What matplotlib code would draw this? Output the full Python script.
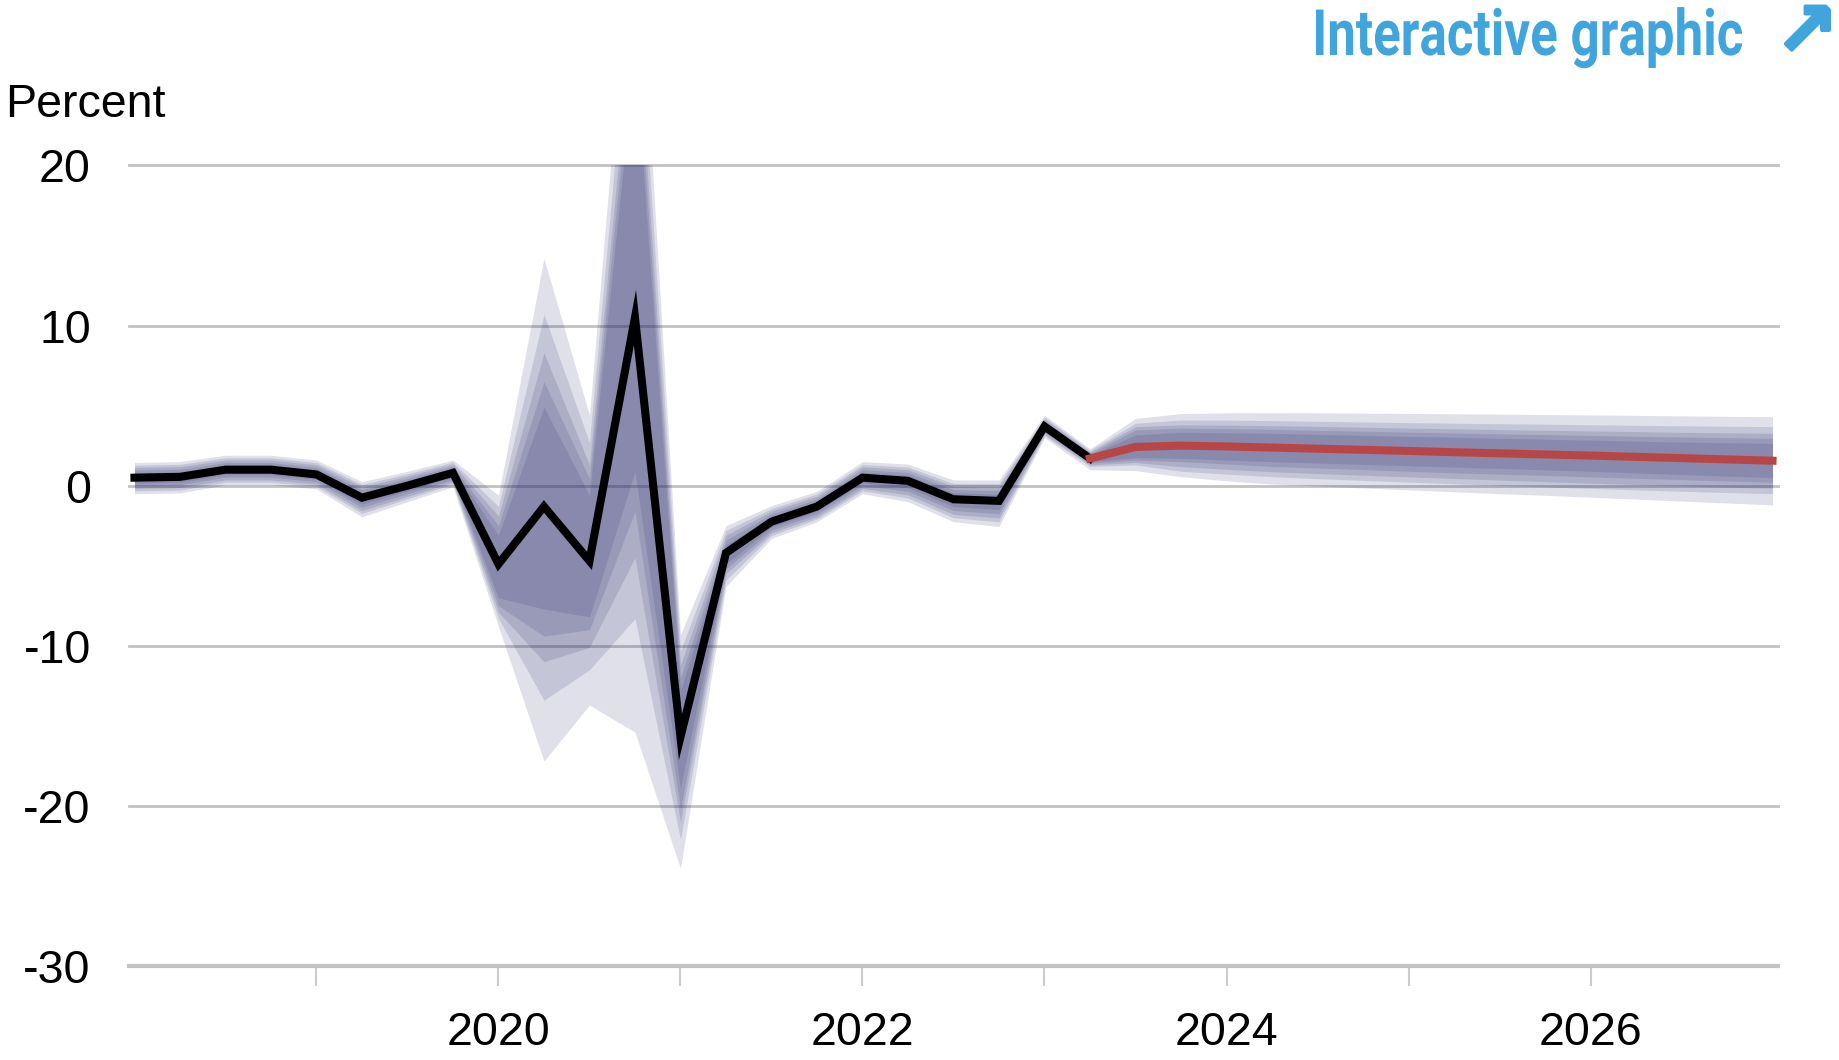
import numpy as np
import matplotlib
matplotlib.use("Agg")
import matplotlib.pyplot as plt
from matplotlib.patheffects import AbstractPathEffect, withStroke
from matplotlib.transforms import Affine2D

plt.rcParams['font.family'] = ['Liberation Sans', 'DejaVu Sans']

# quarterly dates 2018Q1 .. 2027Q1
years = [2018 + i // 4 for i in range(37)]
quarters = [i % 4 + 1 for i in range(37)]

# history (2018Q1 .. 2023Q2) and forecast (2023Q2 .. 2027Q1)
history = [0.5, 0.55, 1.0, 1.0, 0.7, -0.75, 0.0, 0.8, -4.9, -1.3, -4.7, 10.5,
           -15.7, -4.2, -2.25, -1.3, 0.5, 0.3, -0.85, -0.95, 3.7, 1.7]
forecast = [1.7, 2.42, 2.5, 2.45, 2.38, 2.31, 2.24, 2.17, 2.09, 2.02, 1.95,
            1.88, 1.8, 1.72, 1.64, 1.56]

# probability bands, 37 values each (upper / lower edges)
hi50 = [0.81, 0.86, 1.3, 1.3, 1.0, -0.42, 0.3, 1.06, -3.1, 4.9, -0.6, 27,
        -12.8, -3.7, -1.92, -0.99, 0.83, 0.65, -0.45, -0.52, 3.93, 1.9,
        3.17, 3.33, 3.3, 3.27, 3.2, 3.14, 3.08, 3.02, 2.96, 2.9, 2.84, 2.78, 2.72, 2.68, 2.64]
lo50 = [0.17, 0.22, 0.69, 0.69, 0.4, -1.15, -0.33, 0.52, -7.0, -7.7, -8.2, 0.9,
        -18.9, -4.9, -2.6, -1.61, 0.17, -0.13, -1.31, -1.48, 3.47, 1.5,
        1.75, 1.71, 1.6, 1.5, 1.42, 1.33, 1.25, 1.16, 1.08, 0.99, 0.9, 0.8, 0.7, 0.6, 0.5]
hi60 = [0.98, 1.03, 1.45, 1.45, 1.15, -0.25, 0.45, 1.2, -2.5, 6.5, 0.45, 29,
        -12.0, -3.4, -1.75, -0.83, 1.0, 0.83, -0.25, -0.3, 4.05, 2.0,
        3.48, 3.6, 3.56, 3.52, 3.46, 3.4, 3.35, 3.29, 3.24, 3.19, 3.14, 3.09, 3.04, 3.0, 2.96]
lo60 = [0.0, 0.05, 0.53, 0.53, 0.25, -1.35, -0.5, 0.37, -7.5, -9.4, -9.0, -1.6,
        -20.2, -5.2, -2.78, -1.78, 0.0, -0.35, -1.55, -1.75, 3.35, 1.4,
        1.6, 1.5, 1.35, 1.2, 1.1, 1.0, 0.9, 0.8, 0.72, 0.64, 0.55, 0.46, 0.38, 0.29, 0.2]
hi70 = [1.14, 1.19, 1.6, 1.6, 1.3, -0.08, 0.6, 1.34, -1.9, 8.3, 1.3, 31,
        -11.2, -3.1, -1.58, -0.66, 1.17, 1.0, -0.05, -0.08, 4.17, 2.1,
        3.68, 3.8, 3.78, 3.75, 3.7, 3.65, 3.6, 3.55, 3.5, 3.46, 3.42, 3.38, 3.33, 3.3, 3.27]
lo70 = [-0.17, -0.12, 0.36, 0.36, 0.1, -1.55, -0.67, 0.22, -7.9, -11.0, -10.1, -4.5,
        -21.0, -5.5, -2.95, -1.94, -0.17, -0.57, -1.79, -2.02, 3.23, 1.3,
        1.45, 1.19, 1.02, 0.87, 0.76, 0.65, 0.55, 0.45, 0.35, 0.25, 0.16, 0.07, -0.02, -0.1, -0.15]
hi80 = [1.28, 1.33, 1.74, 1.74, 1.44, 0.07, 0.74, 1.46, -1.3, 10.7, 2.7, 34,
        -10.3, -2.8, -1.43, -0.52, 1.32, 1.16, 0.13, 0.12, 4.27, 2.2,
        3.9, 4.1, 4.1, 4.06, 4.02, 3.98, 3.94, 3.9, 3.87, 3.84, 3.8, 3.77, 3.74, 3.71, 3.69]
lo80 = [-0.32, -0.27, 0.22, 0.22, -0.04, -1.73, -0.82, 0.1, -8.3, -13.4, -11.5, -8.3,
        -22.1, -5.9, -3.11, -2.08, -0.32, -0.77, -2.0, -2.26, 3.13, 1.2,
        1.3, 0.9, 0.72, 0.56, 0.44, 0.33, 0.22, 0.12, 0.02, -0.08, -0.17, -0.26, -0.35, -0.43, -0.5]
hi90 = [1.45, 1.5, 1.9, 1.9, 1.6, 0.25, 0.9, 1.6, -0.6, 14.2, 4.4, 38,
        -9.3, -2.5, -1.25, -0.35, 1.5, 1.35, 0.35, 0.35, 4.4, 2.3,
        4.2, 4.5, 4.55, 4.56, 4.55, 4.53, 4.51, 4.49, 4.47, 4.44, 4.42, 4.39, 4.36, 4.33, 4.31]
lo90 = [-0.5, -0.45, 0.05, 0.05, -0.2, -1.95, -1.0, -0.06, -8.8, -17.2, -13.7, -15.4,
        -23.9, -6.3, -3.3, -2.25, -0.5, -1.0, -2.25, -2.55, 3.0, 1.0,
        0.94, 0.56, 0.3, 0.1, -0.02, -0.14, -0.26, -0.38, -0.5, -0.6, -0.72, -0.84, -0.96, -1.08, -1.2]

yticks = [20, 10, 0, -10, -20, -30]
xtick_years = [2019, 2020, 2021, 2022, 2023, 2024, 2025, 2026]
xtick_labels = ['', '2020', '', '2022', '', '2024', '', '2026']


class XSqueeze(AbstractPathEffect):
    # narrows text horizontally around a fixed display x (condensed look)
    def __init__(self, x0, sx):
        super().__init__()
        self.x0 = x0
        self.sx = sx

    def draw_path(self, renderer, gc, tpath, affine, rgbFace=None):
        t = affine + Affine2D().translate(-self.x0, 0).scale(self.sx, 1).translate(self.x0, 0)
        renderer.draw_path(gc, tpath, t, rgbFace)


x = np.array(years) + (np.array(quarters) - 1) / 4.0
n_hist = len(history)
x_hist = x[:n_hist]
x_fc = x[n_hist - 1:]

W, H = 1840, 1060
fig = plt.figure(figsize=(W / 100, H / 100), dpi=100)
ax = fig.add_axes([0.0701, 0.0887, 0.8962, 0.7552])

band_color = '#222469'
for lo, hi in [(lo90, hi90), (lo80, hi80), (lo70, hi70), (lo60, hi60), (lo50, hi50)]:
    ax.fill_between(x, lo, hi, color=band_color, alpha=0.14, linewidth=0, zorder=1)

ax.plot(x_hist, history, color='black', lw=5.8, solid_joinstyle='miter', zorder=3)
ax.plot(x_fc, forecast, color='#b94646', lw=5.8, solid_joinstyle='miter', zorder=4)

ax.set_xlim(2017.97, 2027.03)
ax.set_ylim(-30, 20)
ax.set_yticks(yticks)
ax.set_yticklabels([str(v) for v in yticks])
ax.set_xticks(xtick_years)
ax.set_xticklabels(xtick_labels)

ax.set_axisbelow(True)
ax.grid(axis='y', color='#c2c2c2', lw=2.0, zorder=0)
for gl in ax.get_ygridlines():
    gl.set_clip_on(False)

for s in ['top', 'right', 'left']:
    ax.spines[s].set_visible(False)
ax.spines['bottom'].set_color('#c4c4c4')
ax.spines['bottom'].set_linewidth(3)

ax.tick_params(axis='y', length=0, pad=27.5, labelsize=33.5)
ax.tick_params(axis='x', length=14.5, width=1.5, color='#cccccc', pad=18, labelsize=33.5)

fig.text(0.003, 1 - 117 / H, 'Percent', fontsize=33.5, va='baseline', ha='left')

x_right = 1743
fig.text(x_right / W, 1 - 55 / H, 'Interactive graphic', fontsize=46, fontweight='bold',
         color='#41a5dd', va='baseline', ha='right',
         family=['Roboto', 'DejaVu Sans'],
         path_effects=[XSqueeze(x_right, 0.80)])
fig.text(0.999, 1 - 55 / H, '\u2197', fontsize=54, fontweight='bold', color='#41a5dd',
         va='baseline', ha='right', family=['DejaVu Sans'],
         path_effects=[withStroke(linewidth=2.5, foreground='#41a5dd')])

fig.savefig('out.png', dpi=100)
